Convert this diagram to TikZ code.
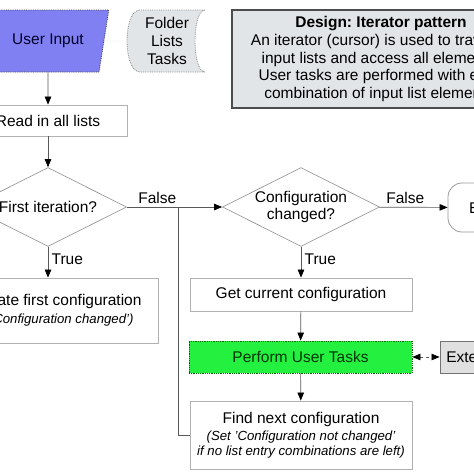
\documentclass[tikz,border=0pt]{standalone}
\usepackage{fontspec}
\setmainfont{Liberation Sans}
\usetikzlibrary{shapes.geometric,arrows.meta}
\definecolor{userblue}{HTML}{8080F2}
\definecolor{taskgreen}{HTML}{24F040}
\definecolor{notegray}{HTML}{E2E5E7}
\newcommand{\hintfont}{\fontsize{13.2}{14.2}\selectfont\itshape}
\frenchspacing
\begin{document}
\begin{tikzpicture}[x=1pt,y=-1pt,
  font=\fontsize{15.5}{17.8}\selectfont,
  >={Triangle[length=8pt,width=6.5pt,color=black]},
  flow/.style={draw=black!65,line width=0.7pt},
  box/.style={draw=black!30,fill=white,line width=0.8pt,inner sep=0pt,align=center},
  ask/.style={diamond,draw=black!40,fill=white,line width=0.7pt,aspect=2,inner sep=0pt,
    minimum width=157pt,minimum height=79pt,align=center},
  lab/.style={font=\fontsize{15.5}{17.8}\selectfont}]
\useasboundingbox (0,0) rectangle (474,474);
\clip (0,0) rectangle (474,474);
%
\node[trapezium,trapezium left angle=70,trapezium right angle=110,trapezium stretches=true,
  minimum width=122pt,minimum height=62pt,draw=black!75,densely dotted,line width=0.8pt,
  fill=userblue,text=blue!15!black] (input) at (48,41) {User Input};
\draw[densely dotted,draw=black!45,fill=notegray,line width=0.8pt]
  (205,10) -- (140,10) .. controls (122.7,10) and (122.7,72) .. (140,72)
  -- (205,72) .. controls (191.7,72) and (191.7,10) .. (205,10);
\node[minimum width=78pt,minimum height=62pt,inner sep=0pt,align=center] (store) at (167,41) {Folder\\Lists\\Tasks};
\draw[densely dotted,draw=black!35] (input) -- (store.west);
\node[draw=black!70,line width=1.2pt,fill=notegray,minimum width=298pt,minimum height=98pt,
  inner sep=0pt,align=center] (design) at (381,59)
  {\textbf{Design: Iterator pattern}\\An iterator (cursor) is used to traverse\\input lists and access all elements.\\User tasks are performed with each\\combination of input list elements.};
%
\node[box,minimum width=158pt,minimum height=31pt] (read) at (48,120.5) {Read in all lists};
\node[ask] (first) at (48,207) {First iteration?};
\node[box,minimum width=220pt,minimum height=65pt] (create) at (48,310.5)
  {Generate first configuration\\\hintfont (Set 'Configuration changed')};
%
\node[ask] (changed) at (301,207) {Configuration\\changed?};
\node[draw=black!40,fill=white,line width=0.8pt,rounded corners=14pt,minimum width=70pt,
  minimum height=49pt] (finish) at (483,207.5) {End};
\node[box,minimum width=222pt,minimum height=33pt] (getconf) at (301,294.5) {Get current configuration};
\node[box,draw=green!40!black,densely dotted,fill=taskgreen,text=green!20!black,
  minimum width=223pt,minimum height=32pt] (perform) at (300.5,357) {Perform User Tasks};
\node[draw=black!55,fill=black!12,line width=0.9pt,minimum width=110pt,minimum height=32pt] (external) at (495,357) {External Tools};
\node[box,minimum width=222pt,minimum height=68pt] (findnext) at (301,435)
  {Find next configuration\\[-1pt]\hintfont (Set 'Configuration not changed'\\[-3pt]\hintfont if no list entry combinations are left)};
\coordinate (merge) at (178,207);
%
\draw[flow,->] (input) -- (read);
\draw[flow,->] (read) -- (first);
\draw[flow,->] (first) -- node[lab,right,pos=0.4]{True} (create);
\draw[flow,->] (first) -- node[lab,above,pos=0.32]{False} (changed);
\draw[flow,->] (changed) -- node[lab,above,pos=0.38]{False} (finish);
\draw[flow,->] (changed) -- node[lab,right,pos=0.4]{True} (getconf);
\draw[flow,->] (getconf) -- (perform);
\draw[flow,->] (perform) -- (findnext);
\draw[flow,<->,dashed] (perform) -- (external);
\draw[flow] (findnext.west) -| (merge);
\end{tikzpicture}
\end{document}
